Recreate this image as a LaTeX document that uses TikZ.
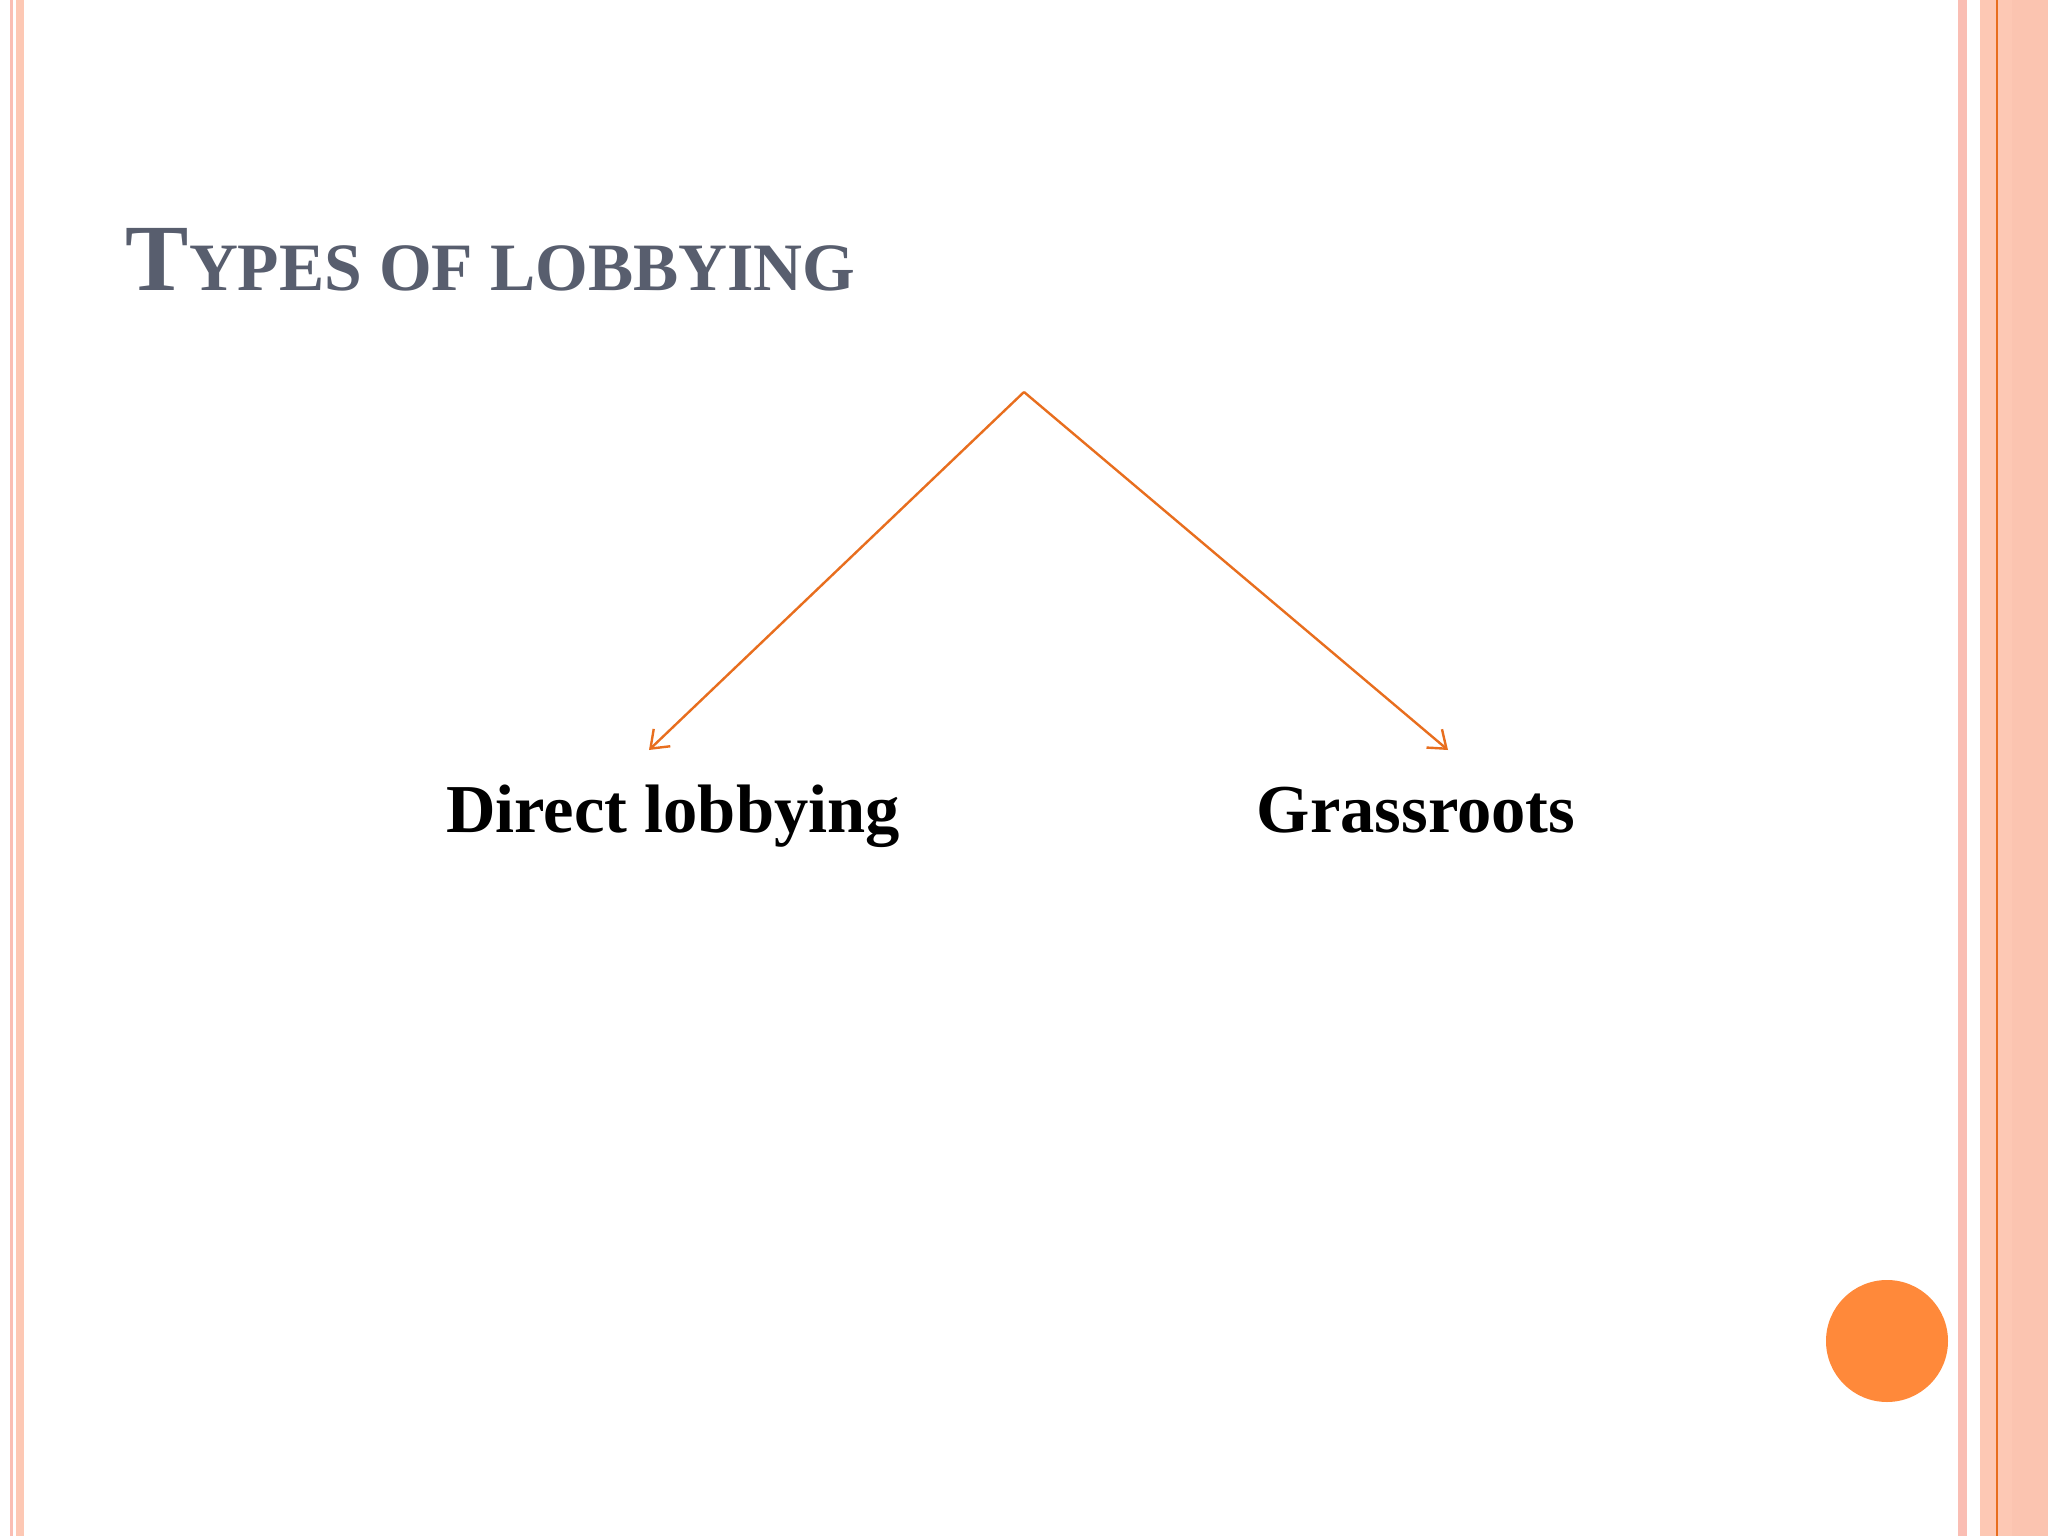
\documentclass[tikz,border=0pt]{standalone}
\usepackage{fontspec}
\setmainfont{Liberation Serif}
\usetikzlibrary{arrows.meta}
\definecolor{ttl}{RGB}{88,94,110}
\definecolor{arr}{RGB}{232,110,30}
\definecolor{peach}{RGB}{253,200,180}
\definecolor{peach2}{RGB}{251,196,176}
\definecolor{pinkl}{RGB}{250,190,180}
\definecolor{dot}{RGB}{255,137,58}
\begin{document}
\begin{tikzpicture}[x=0.25bp,y=-0.25bp,
  lbl/.style={font=\bfseries\fontsize{17.2}{20}\selectfont, anchor=base, inner sep=0pt},
  conn/.style={draw=arr, line width=0.6bp, -{Straight Barb[length=4bp,width=6bp]}}]
\fill[white] (0,0) rectangle (2048,1536);
\useasboundingbox (0,0) rectangle (2048,1536);
% left stripes
\fill[pinkl] (10,0) rectangle (13,1536);
\fill[peach] (16,0) rectangle (24,1536);
% right stripes
\fill[pinkl] (1958,0) rectangle (1967,1536);
\fill[peach] (1980,0) rectangle (2048,1536);
\fill[arr] (1996,0) rectangle (1998,1536);
\fill[peach2] (2012,0) rectangle (2048,1536);
% title
\node[anchor=base west, inner sep=0pt, text=ttl, font=\bfseries] (title) at (125,290)
  {\fontsize{23.8}{28}\selectfont T\fontsize{17}{20}\selectfont YPES OF LOBBYING};
\coordinate (top) at (1024,392);
\node[lbl] (d) at (673,832) {Direct lobbying};
\node[lbl] (g) at (1416,832) {Grassroots};
\draw[conn] (top) -- (649,750);
\draw[conn] (top) -- (1448,750);
\fill[dot] (1887,1341) circle (61);
\end{tikzpicture}
\end{document}
